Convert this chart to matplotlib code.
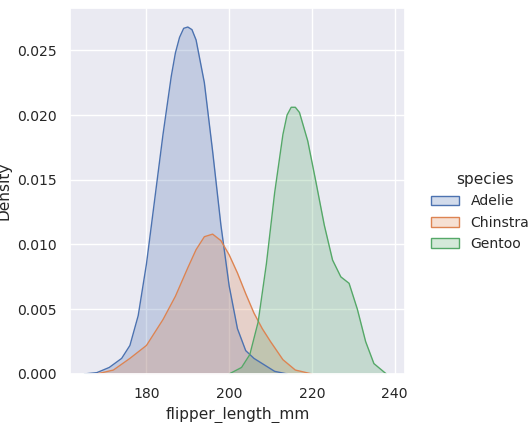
import matplotlib
matplotlib.use("Agg")
import matplotlib.pyplot as plt
import seaborn as sns

sns.set_theme(font_scale=0.92)

species = ["Adelie", "Chinstrap", "Gentoo"]

adelie_x = [165, 168, 171, 174, 176, 178, 180, 182, 184, 186, 187, 188, 189, 190, 191, 192, 194, 196, 198, 200, 202, 204, 206, 208, 211, 214]
adelie_y = [0.0, 0.0001, 0.0005, 0.0012, 0.0022, 0.0045, 0.0085, 0.0135, 0.0185, 0.0230, 0.0248, 0.0260, 0.0267, 0.0268, 0.0266, 0.0258, 0.0225, 0.0172, 0.0115, 0.0068, 0.0035, 0.0018, 0.0012, 0.0008, 0.0002, 0.0]

chin_x = [168, 172, 176, 180, 184, 187, 190, 192, 194, 196, 198, 200, 202, 204, 206, 208, 210, 213, 216, 220]
chin_y = [0.0, 0.0003, 0.0012, 0.0022, 0.0042, 0.0060, 0.0082, 0.0096, 0.0106, 0.0108, 0.0103, 0.0092, 0.0078, 0.0062, 0.0047, 0.0035, 0.0025, 0.0011, 0.0003, 0.0]

gentoo_x = [200, 203, 205, 207, 209, 211, 213, 214, 215, 216, 217, 219, 221, 223, 225, 227, 229, 231, 233, 235, 238]
gentoo_y = [0.0, 0.0005, 0.0015, 0.0040, 0.0085, 0.0140, 0.0185, 0.0200, 0.0206, 0.0206, 0.0202, 0.0180, 0.0148, 0.0115, 0.0088, 0.0075, 0.0070, 0.0050, 0.0025, 0.0008, 0.0]

series = [(adelie_x, adelie_y), (chin_x, chin_y), (gentoo_x, gentoo_y)]
colors = sns.color_palette("deep", 3)

fig = plt.figure(figsize=(5.3, 4.23), dpi=100)
ax = fig.add_axes([0.132, 0.116, 0.632, 0.866])
handles = []
for name, (xs, ys), c in zip(species, series, colors):
    ax.fill_between(xs, ys, color=c, alpha=0.25, lw=0)
    ax.plot(xs, ys, color=c, lw=1)
    handles.append(plt.Rectangle((0, 0), 1, 1, facecolor=(*c, 0.25), edgecolor=c, lw=1))

ax.set_xlim(161.5, 242.5)
ax.set_ylim(0, 0.0283)
ax.set_xticks([180, 200, 220, 240])
ax.set_xlabel("flipper_length_mm")
ax.set_ylabel("Density")
fig.legend(handles, species, title="species", loc="center left",
           bbox_to_anchor=(0.79, 0.5), frameon=False)
fig.savefig("out.png", dpi=100)
